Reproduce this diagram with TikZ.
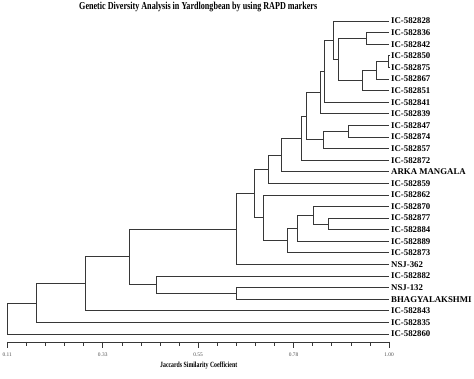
\documentclass[tikz,border=0pt]{standalone}
\usepackage{fontspec}
\setmainfont{Liberation Serif}
\usepackage{graphicx}
\definecolor{lncol}{RGB}{55,55,55}
\tikzset{
  leaf/.style={anchor=west,inner xsep=2pt,inner ysep=0pt,font=\bfseries\fontsize{8.8}{9}\selectfont,text=black},
  br/.style={draw=lncol,line width=0.75pt},
  ticklab/.style={anchor=north,inner sep=0pt,text=black!70},
}
\begin{document}
\begin{tikzpicture}[x=1pt,y=-1pt]
\useasboundingbox (0,0) rectangle (474,379);
% title
\node[anchor=base west,inner sep=0pt] (title) at (79,9.3)
  {\resizebox{238pt}{7.4pt}{\bfseries Genetic Diversity Analysis in Yardlongbean by using RAPD markers}};
% leaves
\node[leaf] (l1) at (389,21.00) {IC-582828};
\node[leaf] (l2) at (389,32.59) {IC-582836};
\node[leaf] (l3) at (389,44.19) {IC-582842};
\node[leaf] (l4) at (389,55.78) {IC-582850};
\node[leaf] (l5) at (389,67.37) {IC-582875};
\node[leaf] (l6) at (389,78.97) {IC-582867};
\node[leaf] (l7) at (389,90.56) {IC-582851};
\node[leaf] (l8) at (389,102.15) {IC-582841};
\node[leaf] (l9) at (389,113.74) {IC-582839};
\node[leaf] (l10) at (389,125.34) {IC-582847};
\node[leaf] (l11) at (389,136.93) {IC-582874};
\node[leaf] (l12) at (389,148.52) {IC-582857};
\node[leaf] (l13) at (389,160.12) {IC-582872};
\node[leaf] (l14) at (389,171.71) {ARKA MANGALA};
\node[leaf] (l15) at (389,183.30) {IC-582859};
\node[leaf] (l16) at (389,194.89) {IC-582862};
\node[leaf] (l17) at (389,206.49) {IC-582870};
\node[leaf] (l18) at (389,218.08) {IC-582877};
\node[leaf] (l19) at (389,229.67) {IC-582884};
\node[leaf] (l20) at (389,241.27) {IC-582889};
\node[leaf] (l21) at (389,252.86) {IC-582873};
\node[leaf] (l22) at (389,264.45) {NSJ-362};
\node[leaf] (l23) at (389,276.04) {IC-582882};
\node[leaf] (l24) at (389,287.64) {NSJ-132};
\node[leaf] (l25) at (389,299.23) {BHAGYALAKSHMI};
\node[leaf] (l26) at (389,310.82) {IC-582843};
\node[leaf] (l27) at (389,322.41) {IC-582835};
\node[leaf] (l28) at (389,334.00) {IC-582860};
% internal nodes
\coordinate (n45) at (388.5,61.58);
\coordinate (n456) at (376.7,70.27);
\coordinate (n4567) at (362.7,80.42);
\coordinate (n23) at (366.7,38.39);
\coordinate (nB) at (338.3,59.40);
\coordinate (nA) at (333.3,40.20);
\coordinate (nC) at (324.0,71.18);
\coordinate (nD) at (320.5,92.46);
\coordinate (n1011) at (348.3,131.13);
\coordinate (nG) at (323.3,139.83);
\coordinate (nE) at (306.2,116.14);
\coordinate (nH) at (301.0,138.13);
\coordinate (nI) at (281.7,154.92);
\coordinate (nJ) at (268.3,169.11);
\coordinate (nQ) at (328.3,223.88);
\coordinate (nR) at (313.3,215.18);
\coordinate (nS) at (297.3,228.23);
\coordinate (nP) at (287.7,240.54);
\coordinate (nN) at (263.3,217.72);
\coordinate (nK) at (254.3,193.41);
\coordinate (nL) at (236.5,228.93);
\coordinate (nT) at (236.7,293.43);
\coordinate (nU) at (156.7,284.74);
\coordinate (nV) at (129.3,256.83);
\coordinate (nW) at (85.0,283.83);
\coordinate (nX) at (36.7,303.12);
\coordinate (nR0) at (7.3,318.56);
% branches
\draw[br] (n45) |- (l4.west) (n45) |- (l5.west);
\draw[br] (n456) |- (n45) (n456) |- (l6.west);
\draw[br] (n4567) |- (n456) (n4567) |- (l7.west);
\draw[br] (n23) |- (l2.west) (n23) |- (l3.west);
\draw[br] (nB) |- (n23) (nB) |- (n4567);
\draw[br] (nA) |- (l1.west) (nA) |- (nB);
\draw[br] (nC) |- (nA) (nC) |- (l8.west);
\draw[br] (nD) |- (nC) (nD) |- (l9.west);
\draw[br] (n1011) |- (l10.west) (n1011) |- (l11.west);
\draw[br] (nG) |- (n1011) (nG) |- (l12.west);
\draw[br] (nE) |- (nD) (nE) |- (nG);
\draw[br] (nH) |- (nE) (nH) |- (l13.west);
\draw[br] (nI) |- (nH) (nI) |- (l14.west);
\draw[br] (nJ) |- (nI) (nJ) |- (l15.west);
\draw[br] (nQ) |- (l18.west) (nQ) |- (l19.west);
\draw[br] (nR) |- (l17.west) (nR) |- (nQ);
\draw[br] (nS) |- (nR) (nS) |- (l20.west);
\draw[br] (nP) |- (nS) (nP) |- (l21.west);
\draw[br] (nN) |- (l16.west) (nN) |- (nP);
\draw[br] (nK) |- (nJ) (nK) |- (nN);
\draw[br] (nL) |- (nK) (nL) |- (l22.west);
\draw[br] (nT) |- (l24.west) (nT) |- (l25.west);
\draw[br] (nU) |- (l23.west) (nU) |- (nT);
\draw[br] (nV) |- (nL) (nV) |- (nU);
\draw[br] (nW) |- (nV) (nW) |- (l26.west);
\draw[br] (nX) |- (nW) (nX) |- (l27.west);
\draw[br] (nR0) |- (nX) (nR0) |- (l28.west);
% axis
\coordinate (ax0) at (7.3,342);
\coordinate (ax1) at (389,342);
\draw[br] (ax0) -- (ax1);
\foreach \i in {0,...,20}{
  \pgfmathsetmacro{\xx}{7.3+\i*19.085}
  \draw[br,line width=0.6pt] (\xx,342) -- (\xx,346.5);
}
\foreach \i/\lab in {0/0.11,5/0.33,10/0.55,15/0.78,20/1.00}{
  \pgfmathsetmacro{\xx}{7.3+\i*19.085}
  \draw[br,line width=0.6pt] (\xx,342) -- (\xx,348);
  \node[ticklab] (tl\i) at (\xx,352.5) {\resizebox{!}{3.6pt}{\lab}};
}
\node[anchor=base west,inner sep=0pt] (axtitle) at (160,367.3)
  {\resizebox{77pt}{5.6pt}{\bfseries Jaccards Similarity Coefficient}};
\end{tikzpicture}
\end{document}
